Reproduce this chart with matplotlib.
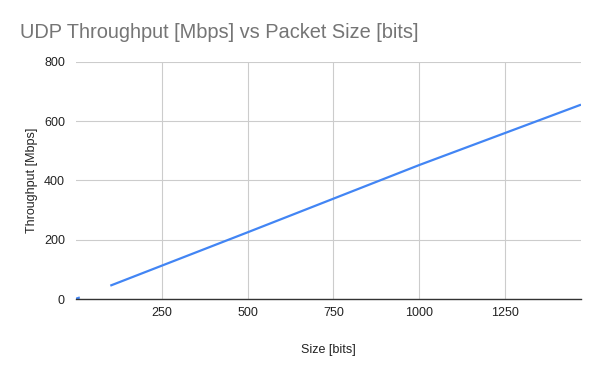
import matplotlib
matplotlib.use('Agg')
import matplotlib.pyplot as plt

plt.rcParams['font.family'] = ['Liberation Sans', 'DejaVu Sans']

# 数据
sizes = [100, 500, 1000, 1472]
throughput = [45, 225, 452, 656]
# 左下角的小段
stub_sizes = [0, 8]
stub_throughput = [1, 4]

x_ticks = [250, 500, 750, 1000, 1250]
y_ticks = [0, 200, 400, 600, 800]

fig = plt.figure(figsize=(6, 3.71), dpi=100)
ax = fig.add_axes([76 / 600, 1 - 299 / 371, (581 - 76) / 600, (299 - 62) / 371])

ax.plot(sizes, throughput, color='#4285F4', linewidth=1.6, solid_capstyle='butt')
ax.plot(stub_sizes, stub_throughput, color='#4285F4', linewidth=1.6, clip_on=True)

ax.set_xlim(0, 1472)
ax.set_ylim(0, 800)
ax.set_xticks(x_ticks)
ax.set_yticks(y_ticks)

ax.grid(True, color='#cccccc', linewidth=0.8)
ax.set_axisbelow(True)
for s in ['top', 'right', 'left']:
    ax.spines[s].set_visible(False)
ax.spines['bottom'].set_color('#333333')
ax.spines['bottom'].set_linewidth(1.0)
ax.tick_params(axis='both', length=0, labelsize=9, labelcolor='#222222')
ax.tick_params(axis='x', pad=6)
ax.tick_params(axis='y', pad=8)

ax.set_xlabel('Size [bits]', fontsize=9, color='#222222', labelpad=18)
ax.set_ylabel('Throughput [Mbps]', fontsize=9, color='#222222', labelpad=4)

fig.text(20 / 600, 1 - 32 / 371, 'UDP Throughput [Mbps] vs Packet Size [bits]',
         fontsize=14.4, color='#757575', va='center', ha='left')

fig.savefig('out.png', dpi=100)
